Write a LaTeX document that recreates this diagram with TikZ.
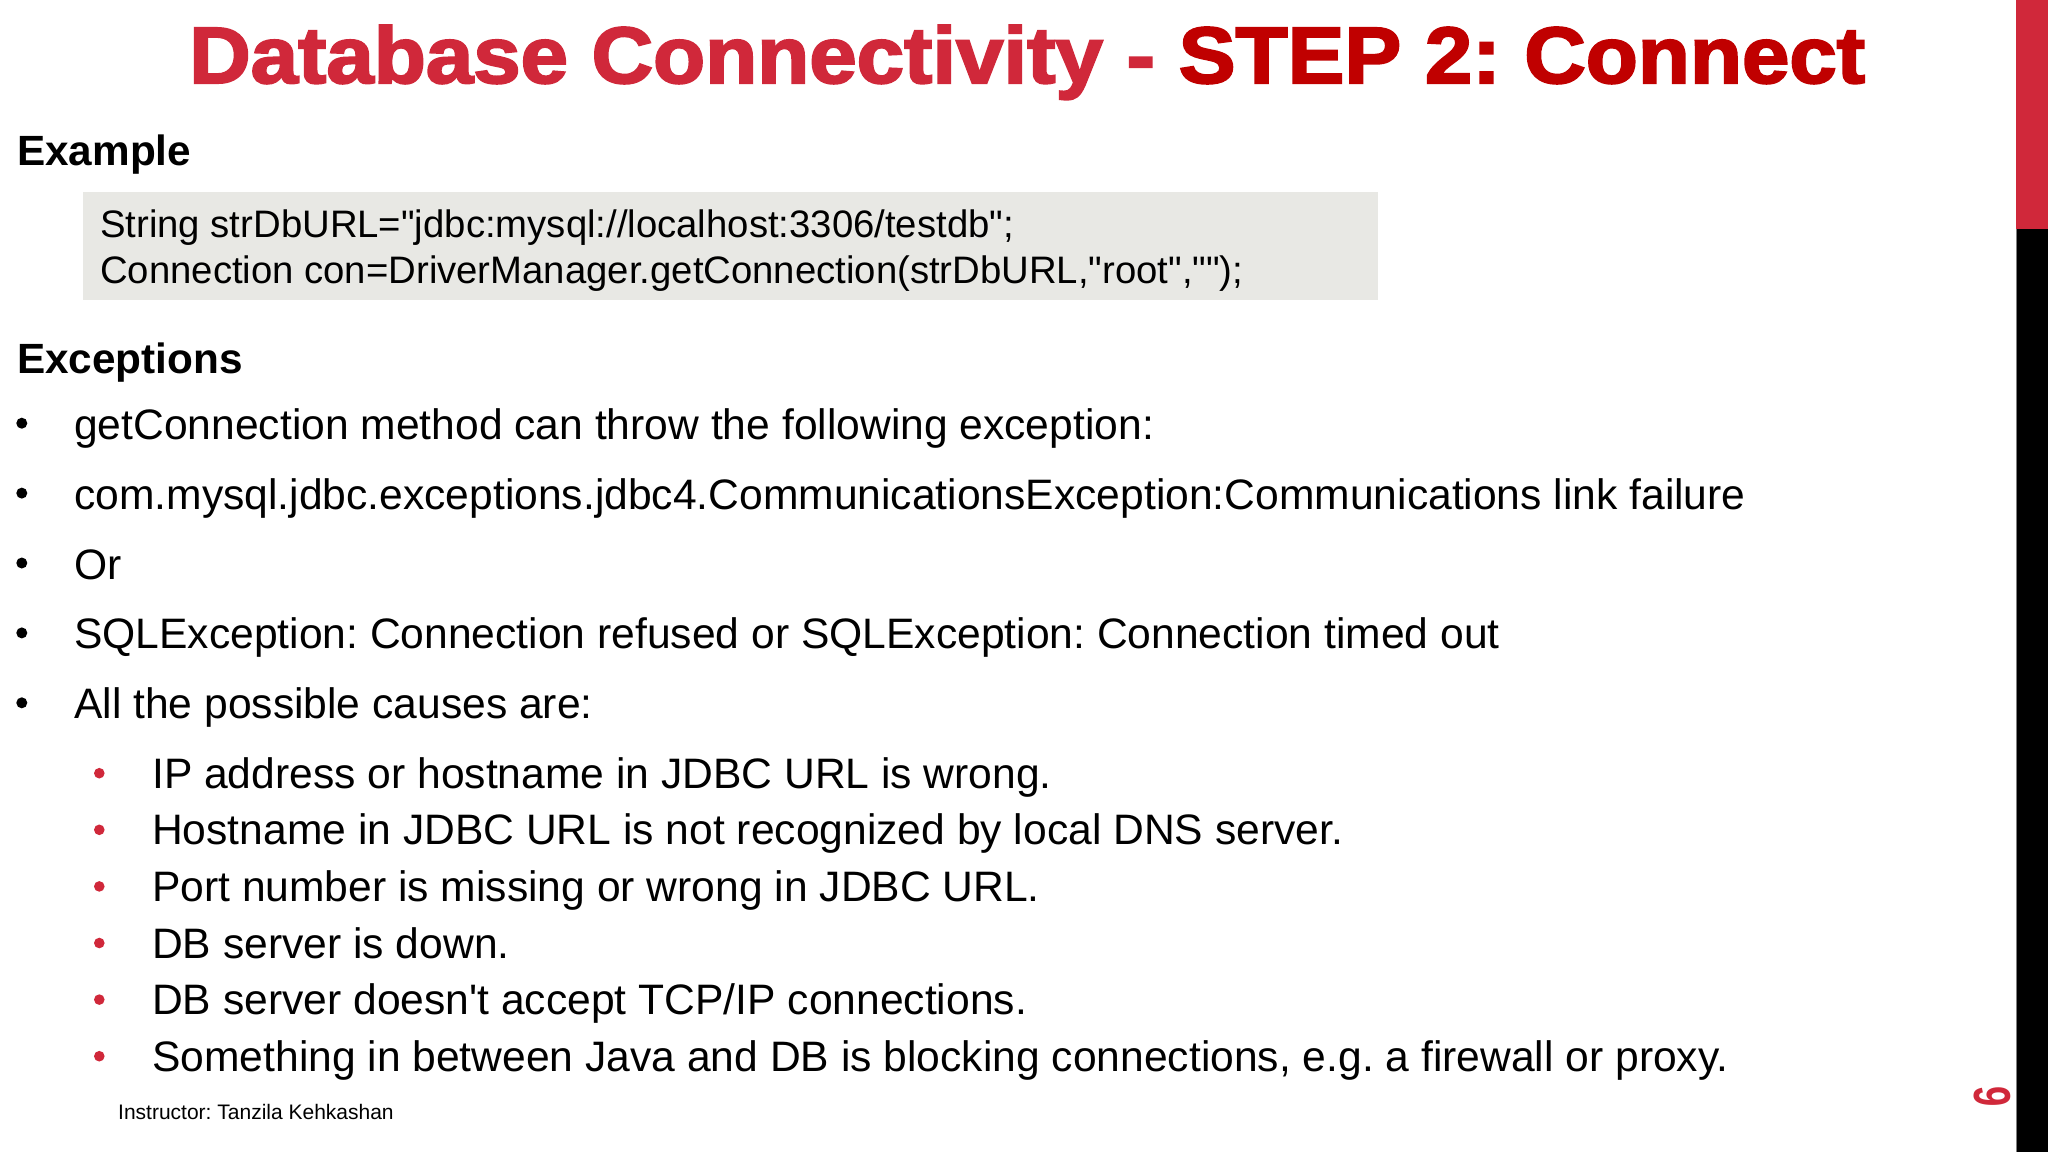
\documentclass[tikz,border=0pt]{standalone}
\usepackage{fontspec}
\usepackage{xcolor}
\usepackage{tikz}
\usetikzlibrary{positioning}
\setmainfont{Liberation Sans}[Ligatures=TeXOff]
\newfontfamily\heavyfont{Liberation Sans Bold}[FakeBold=2.5, Ligatures=TeXOff]
\definecolor{slidered}{HTML}{D0283A}
\definecolor{stepred}{HTML}{C00000}
\definecolor{codegray}{HTML}{E8E8E4}
\tikzstyle{heading} = [anchor=base west, inner sep=0pt, font=\bfseries\fontsize{42.3}{42.3}\selectfont]
\tikzstyle{codeline} = [anchor=base west, inner sep=0pt, font=\fontsize{38.3}{38.3}\selectfont]
\tikzstyle{item} = [anchor=north west, inner sep=0pt, text height=31pt, text depth=10pt, font=\fontsize{42.6}{42.6}\selectfont]
\tikzstyle{dot} = [circle, fill=black, inner sep=0pt, minimum size=11pt]
\tikzstyle{reddot} = [circle, fill=slidered, inner sep=0pt, minimum size=10.6pt]
\frenchspacing

\begin{document}
\begin{tikzpicture}[x=1pt,y=1pt]
	\useasboundingbox (0,0) rectangle (2048,-1152);
	\fill[white] (0,0) rectangle (2048,-1152);
	% side bar
	\fill[slidered] (2016,0) rectangle (2048,-229);
	\fill[black] (2016,-229) rectangle (2048,-1152);
	\draw[gray, line width=1pt] (2016,-229) -- (2016,-1152);

	\node (Title) [anchor=base west, inner sep=0pt] at (189,-83) {\scalebox{1.065}[1]{\heavyfont\fontsize{80}{80}\selectfont\color{slidered}Database Connectivity - \color{stepred}STEP 2: Connect}};

	\node (Example) [heading] at (17,-165) {Example};
	\node (CodeBox) [anchor=north west, inner sep=0pt, fill=codegray, minimum width=1295pt, minimum height=108pt] at (83,-192) {};
	\node (Line1) [codeline] at (100,-237) {String strDbURL="jdbc:mysql://localhost:3306/testdb";};
	\node (Line2) [codeline] at (100,-283) {Connection con=DriverManager.getConnection(strDbURL,"root","");};

	\node (Exceptions) [heading] at (17,-373) {Exceptions};
	\node (GetConn) [item] at (74,-408) {getConnection method can throw the following exception:};
	\node (CommLink) [item, below right=28.5pt and 0pt of GetConn.south west] {com.mysql.jdbc.exceptions.jdbc4.CommunicationsException:Communications link failure};
	\node (Or) [item, below right=28.5pt and 0pt of CommLink.south west] {Or};
	\node (Refused) [item, below right=28.5pt and 0pt of Or.south west] {SQLException: Connection refused or SQLException: Connection timed out};
	\node (Causes) [item, below right=28.5pt and 0pt of Refused.south west] {All the possible causes are:};

	\node (WrongHost) [item] at (152,-757) {IP address or hostname in JDBC URL is wrong.};
	\node (DNS) [item, below right=15.2pt and 0pt of WrongHost.south west] {Hostname in JDBC URL is not recognized by local DNS server.};
	\node (Port) [item, below right=15.2pt and 0pt of DNS.south west] {Port number is missing or wrong in JDBC URL.};
	\node (Down) [item, below right=15.2pt and 0pt of Port.south west] {DB server is down.};
	\node (NoTCP) [item, below right=15.2pt and 0pt of Down.south west] {DB server doesn't accept TCP/IP connections.};
	\node (Blocked) [item, below right=15.2pt and 0pt of NoTCP.south west] {Something in between Java and DB is blocking connections, e.g. a firewall or proxy.};

	\node (b1) [dot, left=46.5pt of GetConn.base west, yshift=16pt] {};
	\node (b2) [dot, left=46.5pt of CommLink.base west, yshift=16pt] {};
	\node (b3) [dot, left=46.5pt of Or.base west, yshift=16pt] {};
	\node (b4) [dot, left=46.5pt of Refused.base west, yshift=16pt] {};
	\node (b5) [dot, left=46.5pt of Causes.base west, yshift=16pt] {};

	\node (r1) [reddot, left=47.2pt of WrongHost.base west, yshift=15pt] {};
	\node (r2) [reddot, left=47.2pt of DNS.base west, yshift=15pt] {};
	\node (r3) [reddot, left=47.2pt of Port.base west, yshift=15pt] {};
	\node (r4) [reddot, left=47.2pt of Down.base west, yshift=15pt] {};
	\node (r5) [reddot, left=47.2pt of NoTCP.base west, yshift=15pt] {};
	\node (r6) [reddot, left=47.2pt of Blocked.base west, yshift=15pt] {};

	\node (Instructor) [anchor=base west, inner sep=0pt, font=\fontsize{21}{21}\selectfont] at (118,-1119) {Instructor: Tanzila Kehkashan};
	\node (PageNum) [rotate=-90, inner sep=0pt, text=slidered, font=\bfseries\fontsize{52}{52}\selectfont] at (1992,-1097) {\scalebox{0.7}[1]{9}};
\end{tikzpicture}
\end{document}
